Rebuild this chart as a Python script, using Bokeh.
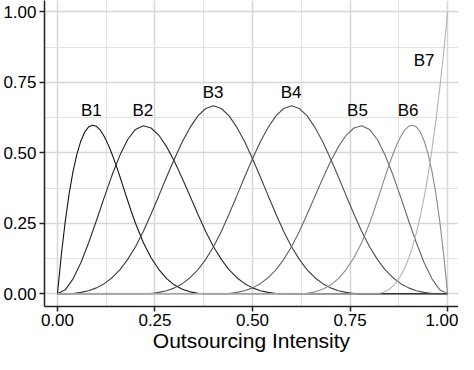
from bokeh.plotting import figure
from bokeh.models import Range1d, FixedTicker
from bokeh.core.properties import value
from bokeh.embed import file_html
from bokeh.resources import INLINE

# shared sample positions for B2..B5
x = [0.00, 0.02, 0.04, 0.06, 0.08, 0.10, 0.12, 0.14, 0.16, 0.18,
     0.20, 0.22, 0.24, 0.26, 0.28, 0.30, 0.32, 0.34, 0.36, 0.38,
     0.40, 0.42, 0.44, 0.46, 0.48, 0.50, 0.52, 0.54, 0.56, 0.58,
     0.60, 0.62, 0.64, 0.66, 0.68, 0.70, 0.72, 0.74, 0.76, 0.78,
     0.80, 0.82, 0.84, 0.86, 0.88, 0.90, 0.92, 0.94, 0.96, 0.98, 1.00]

b2 = [0, .014, .053, .110, .181, .260, .342, .421, .491, .547,
      .583, .596, .588, .562, .521, .469, .409, .346, .282, .221,
      .167, .122, .085, .057, .036, .021, .011, .005, .001, 0,
      0, 0, 0, 0, 0, 0, 0, 0, 0, 0,
      0, 0, 0, 0, 0, 0, 0, 0, 0, 0, 0]

b3 = [0, 0, .001, .005, .011, .021, .036, .057, .085, .122,
      .167, .221, .283, .348, .415, .479, .539, .590, .631, .657,
      .667, .657, .631, .590, .539, .479, .415, .348, .283, .221,
      .167, .122, .085, .057, .036, .021, .011, .005, .001, 0,
      0, 0, 0, 0, 0, 0, 0, 0, 0, 0, 0]

b4 = [0, 0, 0, 0, 0, 0, 0, 0, 0, 0,
      0, 0, .001, .005, .011, .021, .036, .057, .085, .122,
      .167, .221, .283, .348, .415, .479, .539, .590, .631, .657,
      .667, .657, .631, .590, .539, .479, .415, .348, .283, .221,
      .167, .122, .085, .057, .036, .021, .011, .005, .001, 0, 0]

b5 = [0, 0, 0, 0, 0, 0, 0, 0, 0, 0,
      0, 0, 0, 0, 0, 0, 0, 0, 0, 0,
      0, 0, .001, .005, .011, .021, .036, .057, .085, .122,
      .167, .221, .282, .346, .409, .469, .521, .562, .588, .596,
      .583, .547, .491, .421, .342, .260, .181, .110, .053, .014, 0]

# B1, B6, B7 are steep, so they are read at finer positions
b1_x = [0.00, 0.01, 0.02, 0.03, 0.04, 0.05, 0.06, 0.07, 0.08, 0.09,
        0.10, 0.11, 0.12, 0.13, 0.14, 0.15, 0.16, 0.17, 0.18, 0.19,
        0.20, 0.22, 0.24, 0.26, 0.28, 0.30, 0.32, 0.34, 0.36, 0.38,
        0.40, 1.00]
b1 = [0, .139, .257, .355, .434, .496, .542, .574, .592, .598,
      .594, .580, .558, .529, .495, .457, .416, .373, .331, .289,
      .250, .182, .128, .086, .054, .031, .016, .007, .002, 0,
      0, 0]

b6_x = [0.00, 0.60, 0.62, 0.64, 0.66, 0.68, 0.70, 0.72, 0.74, 0.76,
        0.78, 0.80, 0.81, 0.82, 0.83, 0.84, 0.85, 0.86, 0.87, 0.88,
        0.89, 0.90, 0.91, 0.92, 0.93, 0.94, 0.95, 0.96, 0.97, 0.98,
        0.99, 1.00]
b6 = [0, 0, 0, .002, .007, .016, .031, .054, .086, .128,
      .182, .250, .289, .331, .373, .416, .457, .495, .529, .558,
      .580, .594, .598, .592, .574, .542, .496, .434, .355, .257,
      .139, 0]

b7_x = [0.00, 0.80, 0.81, 0.82, 0.83, 0.84, 0.85, 0.86, 0.87, 0.88,
        0.89, 0.90, 0.91, 0.92, 0.93, 0.94, 0.95, 0.96, 0.97, 0.98,
        0.99, 1.00]
b7 = [0, 0, 0, .001, .003, .008, .016, .027, .043, .064,
      .091, .125, .166, .216, .275, .343, .422, .512, .614, .729,
      .857, 1.000]

series_x = [b1_x, x, x, x, x, b6_x, b7_x]
series_y = [b1, b2, b3, b4, b5, b6, b7]

labels = ["B1", "B2", "B3", "B4", "B5", "B6", "B7"]
label_x = [0.087, 0.219, 0.399, 0.599, 0.769, 0.899, 0.940]
label_y = [0.650, 0.650, 0.715, 0.715, 0.649, 0.649, 0.829]

x_ticks = [0.0, 0.25, 0.5, 0.75, 1.0]
y_ticks = [0.0, 0.25, 0.5, 0.75, 1.0]
tick_labels = ["0.00", "0.25", "0.50", "0.75", "1.00"]
minor = [0.125, 0.375, 0.625, 0.875]
x_title = "Outsourcing Intensity"

colors = ["#151515", "#2a2a2a", "#3c3c3c", "#4e4e4e", "#676767", "#8a8a8a", "#b3b3b3"]

FONT = "Liberation Sans"

p = figure(width=458, height=354,
           x_range=Range1d(-0.0332, 1.028), y_range=Range1d(-0.045, 1.04),
           output_backend="svg", toolbar_location=None,
           min_border_left=42, min_border_right=0, min_border_top=0, min_border_bottom=0)
p.outline_line_color = None
p.background_fill_color = "white"
p.border_fill_color = "white"

for sx, sy, c in zip(series_x, series_y, colors):
    p.line(sx, sy, line_color=c, line_width=1.1)

p.text(x=label_x, y=label_y, text=labels, text_align="center", text_baseline="middle",
       text_font=value(FONT), text_font_size="17px", text_color="black")

p.xaxis.ticker = FixedTicker(ticks=x_ticks, minor_ticks=minor)
p.yaxis.ticker = FixedTicker(ticks=y_ticks, minor_ticks=minor)
p.xaxis.major_label_overrides = {t: l for t, l in zip(x_ticks, tick_labels)}
p.yaxis.major_label_overrides = {t: l for t, l in zip(y_ticks, tick_labels)}

for ax in (p.xaxis, p.yaxis):
    ax.axis_line_color = "#222222"
    ax.axis_line_width = 1.5
    ax.major_tick_line_color = "#222222"
    ax.major_tick_line_width = 1.5
    ax.major_tick_out = 5
    ax.major_tick_in = 0
    ax.minor_tick_line_color = None
    ax.major_label_text_font = FONT
    ax.major_label_text_font_size = "17px"
    ax.major_label_text_color = "black"
    ax.major_label_standoff = 3

p.xaxis.major_label_standoff = 2
p.xaxis.axis_label = x_title
p.xaxis.axis_label_text_font = FONT
p.xaxis.axis_label_text_font_size = "21px"
p.xaxis.axis_label_text_font_style = "normal"
p.xaxis.axis_label_text_color = "black"
p.xaxis.axis_label_standoff = 0

for g in (p.xgrid, p.ygrid):
    g.grid_line_color = "#d6d6d6"
    g.grid_line_width = 1.5
    g.minor_grid_line_color = "#e2e2e2"
    g.minor_grid_line_width = 1

open("out.html", "w").write(file_html(p, INLINE))
